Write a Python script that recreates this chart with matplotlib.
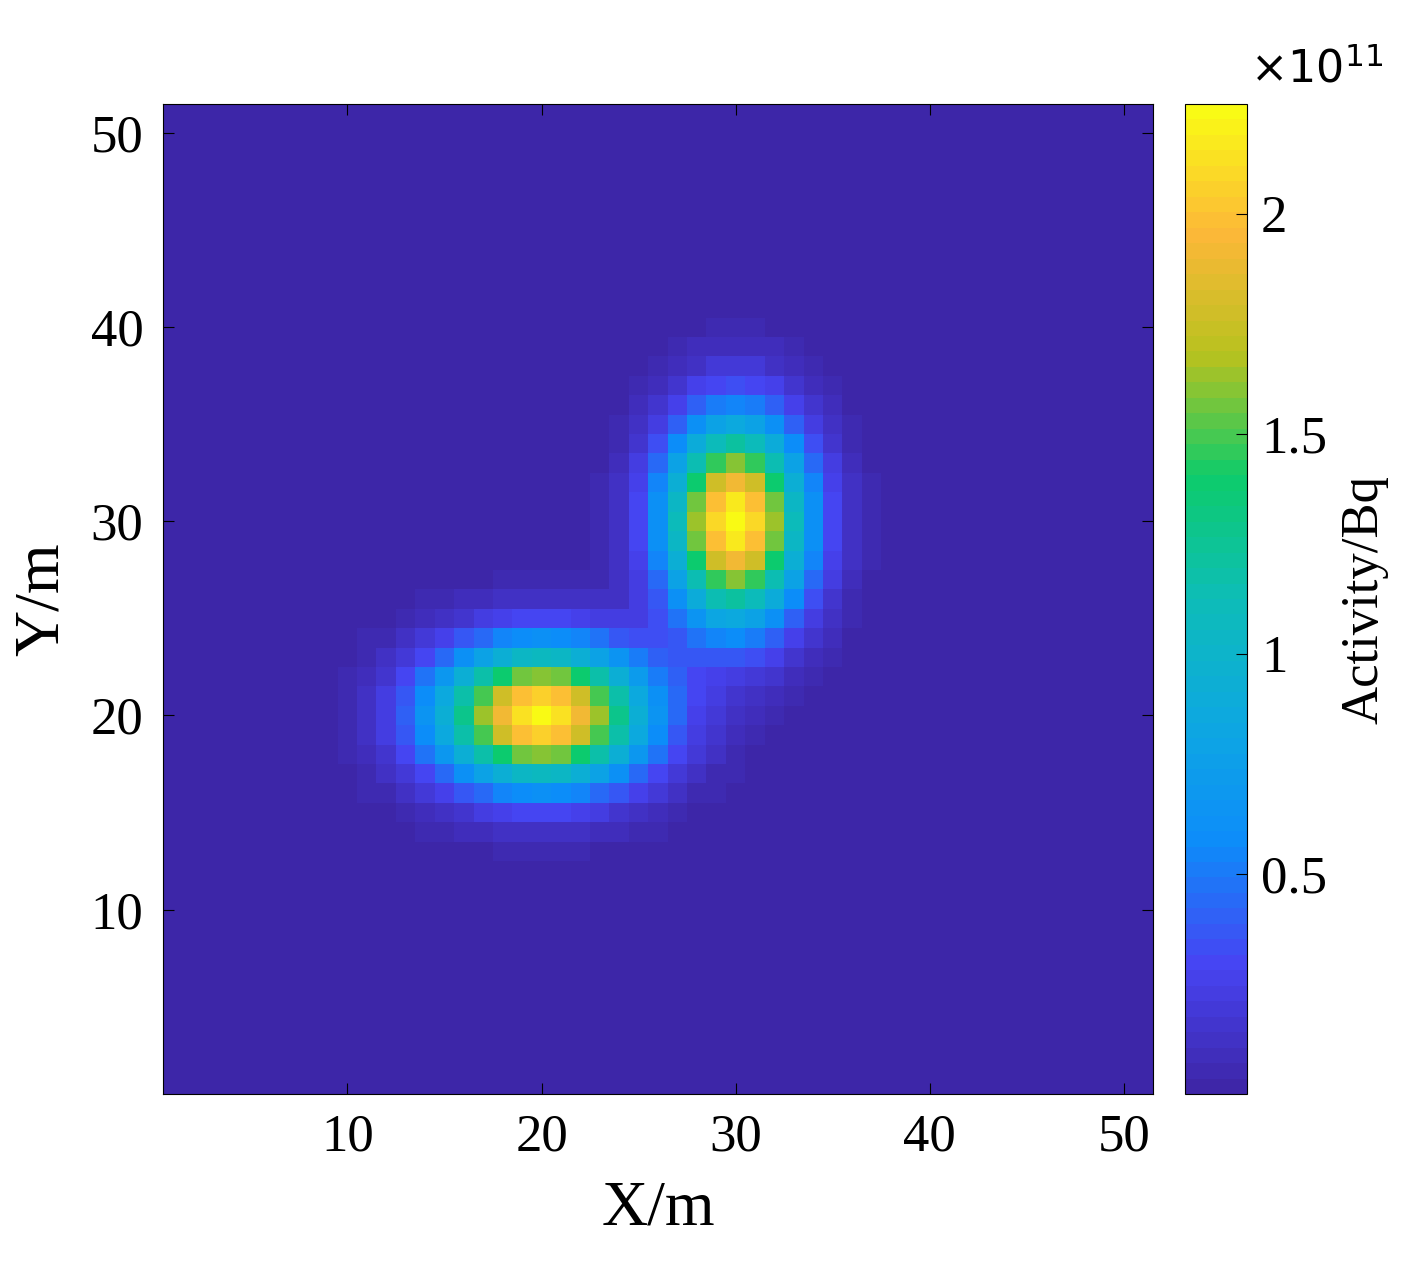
import numpy as np
import matplotlib
matplotlib.use("Agg")
import matplotlib.pyplot as plt
from matplotlib.colors import LinearSegmentedColormap

# source parameters
src_x = [20, 30]
src_y = [20, 30]
src_amp = [2.22e11, 2.25e11]
src_sx = [3.8, 2.5]
src_sy = [2.5, 3.6]
grid_n = 51
vmax = 2.25e11

xs = np.arange(1, grid_n + 1)
X, Y = np.meshgrid(xs, xs)
Z = np.zeros_like(X, dtype=float)
for cx, cy, a, sx, sy in zip(src_x, src_y, src_amp, src_sx, src_sy):
    Z += a * np.exp(-((X - cx) ** 2 / (2 * sx ** 2) + (Y - cy) ** 2 / (2 * sy ** 2)))

anchors = [(0.0, (0.2422, 0.1504, 0.6603)), (0.125, (0.2769, 0.2670, 0.9520)),
           (0.25, (0.05, 0.55, 0.98)), (0.375, (0.05, 0.66, 0.88)),
           (0.5, (0.05, 0.74, 0.72)), (0.625, (0.05, 0.80, 0.42)),
           (0.75, (0.72, 0.76, 0.12)), (0.875, (0.99, 0.72, 0.22)),
           (1.0, (0.9769, 0.9839, 0.0805))]
cmap = LinearSegmentedColormap.from_list("parula", anchors, N=64)

plt.rcParams['font.family'] = ['Liberation Serif', 'DejaVu Serif']
fig = plt.figure(figsize=(14.23, 12.76), dpi=100)
ax = fig.add_axes([163/1423, 1-1094/1276, 990/1423, 990/1276])
cax = fig.add_axes([1185/1423, 1-1094/1276, 62/1423, 990/1276])

im = ax.imshow(Z, origin='lower', cmap=cmap, vmin=0, vmax=vmax,
               extent=[0.5, grid_n + 0.5, 0.5, grid_n + 0.5], aspect='auto',
               interpolation='nearest')
ax.set_xticks([10, 20, 30, 40, 50])
ax.set_yticks([10, 20, 30, 40, 50])
ax.tick_params(direction='in', top=True, right=True, labelsize=38, length=8, pad=14)
ax.set_xlabel('X/m', fontsize=46, labelpad=14)
ax.set_ylabel('Y/m', fontsize=46, labelpad=14)

cb = fig.colorbar(im, cax=cax)
cb.set_ticks([0.5e11, 1e11, 1.5e11, 2e11])
cb.set_ticklabels(['0.5', '1', '1.5', '2'])
cax.tick_params(direction='in', labelsize=38, length=8, pad=10)
cb.set_label('Activity/Bq', fontsize=38, labelpad=10)
fig.text(1250/1423, 1-70/1276, r'$\times10^{11}$', fontsize=32, va='center')

fig.savefig('out.png', dpi=100, facecolor='white')
